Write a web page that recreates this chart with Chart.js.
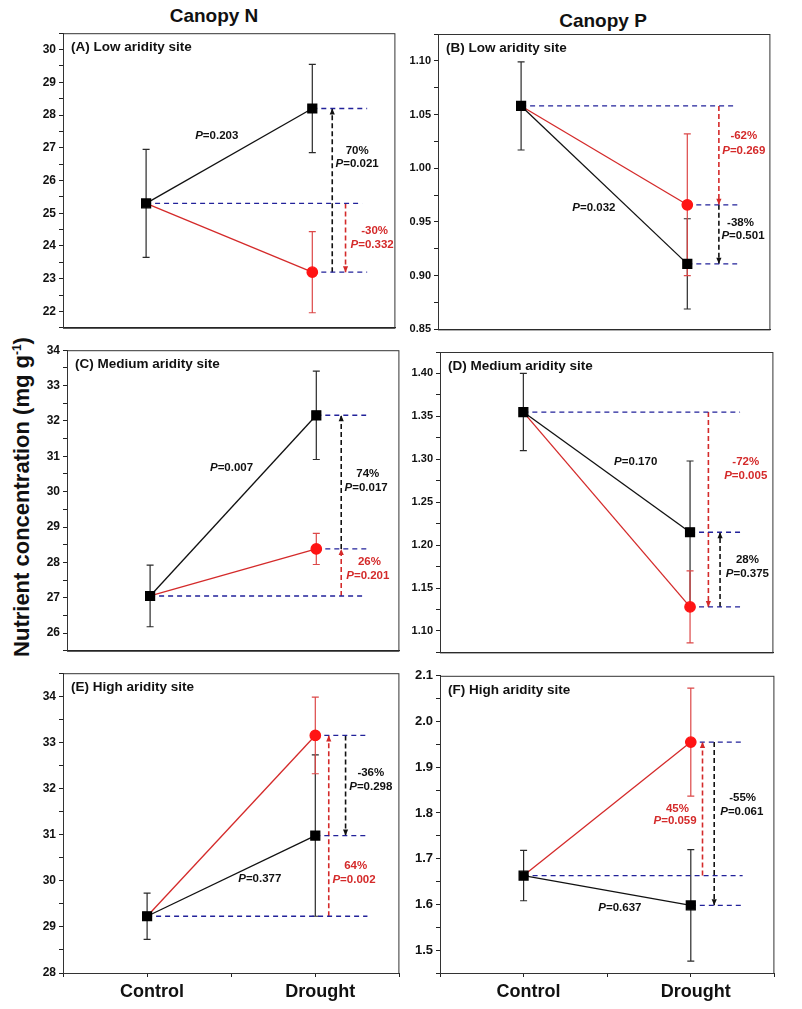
<!DOCTYPE html>
<html>
<head>
<meta charset="utf-8">
<title>Canopy N and P under drought</title>
<script src="https://cdn.jsdelivr.net/npm/chart.js@4.4.0/dist/chart.umd.min.js"></script>
<style>
    body { margin: 0; width: 802px; height: 1009px; background: #fff; position: relative; overflow: hidden;
           font-family: "Liberation Sans", Arial, sans-serif; }
    canvas { position: absolute; }
    .col-title { position: absolute; font-size: 19px; font-weight: bold; line-height: 1; color: #111;
                 transform: translateX(-50%); white-space: nowrap; }
    .y-title { position: absolute; left: 22px; top: 497px; font-size: 22px; font-weight: bold; color: #111;
               white-space: nowrap; transform: translate(-50%, -50%) rotate(-90deg); }
    .y-title sup { font-size: 12px; }
</style>
</head>
<body>
<div class="col-title" style="left:214px; top:6px;">Canopy N</div>
<div class="col-title" style="left:603px; top:11px;">Canopy P</div>
<div class="y-title">Nutrient concentration (mg g<sup>-1</sup>)</div>

<canvas id="chartA"></canvas>
<canvas id="chartB"></canvas>
<canvas id="chartC"></canvas>
<canvas id="chartD"></canvas>
<canvas id="chartE"></canvas>
<canvas id="chartF"></canvas>

<script>
// Treatments on the x axis
const groups = ['Control', 'Drought'];
const groupX = [1, 2];

// (A) Canopy N, low aridity site
const nLowBlack = [25.3, 28.2];
const nLowBlackErr = [1.65, 1.35];
const nLowRed = [25.3, 23.2];
const nLowRedErr = [0, 1.24];
const nLowTicks = [22, 23, 24, 25, 26, 27, 28, 29, 30];

// (B) Canopy P, low aridity site
const pLowBlack = [1.058, 0.911];
const pLowBlackErr = [0.041, 0.042];
const pLowRed = [1.058, 0.966];
const pLowRedErr = [0, 0.066];
const pLowTicks = [0.85, 0.90, 0.95, 1.00, 1.05, 1.10];

// (C) Canopy N, medium aridity site
const nMedBlack = [27.05, 32.16];
const nMedBlackErr = [0.87, 1.25];
const nMedRed = [27.05, 28.38];
const nMedRedErr = [0, 0.44];
const nMedTicks = [26, 27, 28, 29, 30, 31, 32, 33, 34];

// (D) Canopy P, medium aridity site
const pMedBlack = [1.355, 1.215];
const pMedBlackErr = [0.045, 0.083];
const pMedRed = [1.355, 1.128];
const pMedRedErr = [0, 0.042];
const pMedTicks = [1.10, 1.15, 1.20, 1.25, 1.30, 1.35, 1.40];

// (E) Canopy N, high aridity site
const nHighBlack = [29.23, 30.98];
const nHighBlackErr = [0.5, 1.75];
const nHighRed = [29.23, 33.15];
const nHighRedErr = [0, 0.83];
const nHighTicks = [28, 29, 30, 31, 32, 33, 34];

// (F) Canopy P, high aridity site
const pHighBlack = [1.663, 1.598];
const pHighBlackErr = [0.055, 0.122];
const pHighRed = [1.663, 1.955];
const pHighRedErr = [0, 0.118];
const pHighTicks = [1.5, 1.6, 1.7, 1.8, 1.9, 2.0, 2.1];

const BLACK = '#111111';
const RED = '#d42a2a';
const FONT = '"Liberation Sans", Arial, sans-serif';

Chart.defaults.font.family = FONT;

function toPoints(values) {
    return values.map((v, i) => ({ x: groupX[i], y: v }));
}

// Major ticks plus a minor tick half way between each pair
function yTickValues(majors, min, max) {
    const half = (majors[1] - majors[0]) / 2;
    const list = [];
    majors.forEach(m => list.push(m - half, m));
    list.push(majors[majors.length - 1] + half);
    return list
        .map(v => Number(v.toFixed(6)))
        .filter(v => v >= min - 1e-9 && v <= max + 1e-9);
}

const errorBarPlugin = {
    id: 'errorBars',
    beforeDatasetsDraw(chart) {
        const ctx = chart.ctx;
        const yScale = chart.scales.y;
        chart.data.datasets.forEach((ds, i) => {
            if (!ds.errors) return;
            const meta = chart.getDatasetMeta(i);
            ctx.save();
            ctx.strokeStyle = ds.errorColor;
            ctx.lineWidth = 1.2;
            meta.data.forEach((pt, j) => {
                const e = ds.errors[j];
                if (!e) return;
                const v = ds.data[j].y;
                const top = yScale.getPixelForValue(v + e);
                const bot = yScale.getPixelForValue(v - e);
                ctx.beginPath();
                ctx.moveTo(pt.x, top);
                ctx.lineTo(pt.x, bot);
                ctx.moveTo(pt.x - 3.5, top);
                ctx.lineTo(pt.x + 3.5, top);
                ctx.moveTo(pt.x - 3.5, bot);
                ctx.lineTo(pt.x + 3.5, bot);
                ctx.stroke();
            });
            ctx.restore();
        });
    }
};

const arrowPlugin = {
    id: 'arrowHeads',
    afterDatasetsDraw(chart) {
        const ctx = chart.ctx;
        chart.data.datasets.forEach((ds, i) => {
            if (!ds.arrow) return;
            const pts = chart.getDatasetMeta(i).data;
            const a = pts[0], z = pts[1];
            const dir = z.y < a.y ? -1 : 1;
            ctx.save();
            ctx.fillStyle = ds.borderColor;
            ctx.beginPath();
            ctx.moveTo(z.x, z.y);
            ctx.lineTo(z.x - 2.6, z.y - dir * 6);
            ctx.lineTo(z.x + 2.6, z.y - dir * 6);
            ctx.closePath();
            ctx.fill();
            ctx.restore();
        });
    }
};

const framePlugin = {
    id: 'frame',
    afterDraw(chart) {
        const { left, top, right, bottom } = chart.chartArea;
        const ctx = chart.ctx;
        ctx.save();
        ctx.strokeStyle = '#333';
        ctx.lineWidth = 1;
        ctx.strokeRect(left + 0.5, top + 0.5, right - left - 1, bottom - top);
        ctx.restore();
    }
};

// Panel caption and the percentage / P-value notes
function notesPlugin(caption, notes) {
    return {
        id: 'notes',
        afterDatasetsDraw(chart) {
            const ctx = chart.ctx;
            const { x, y } = chart.scales;
            ctx.save();
            ctx.textBaseline = 'middle';
            ctx.fillStyle = BLACK;
            ctx.font = 'bold 13.5px ' + FONT;
            ctx.textAlign = 'left';
            ctx.fillText(caption, chart.chartArea.left + 8, chart.chartArea.top + 14);

            notes.forEach(n => {
                const px = x.getPixelForValue(n[0]);
                const py = y.getPixelForValue(n[1]);
                const text = n[2];
                ctx.fillStyle = n[3] || BLACK;
                if (text.startsWith('P=')) {
                    const head = 'P';
                    const rest = text.slice(1);
                    ctx.font = 'italic bold 11.5px ' + FONT;
                    const w1 = ctx.measureText(head).width;
                    ctx.font = 'bold 11.5px ' + FONT;
                    const w2 = ctx.measureText(rest).width;
                    const start = px - (w1 + w2) / 2;
                    ctx.textAlign = 'left';
                    ctx.font = 'italic bold 11.5px ' + FONT;
                    ctx.fillText(head, start, py);
                    ctx.font = 'bold 11.5px ' + FONT;
                    ctx.fillText(rest, start + w1, py);
                } else {
                    ctx.textAlign = 'center';
                    ctx.font = 'bold 11.5px ' + FONT;
                    ctx.fillText(text, px, py);
                }
            });
            ctx.restore();
        }
    };
}

function makePanel(id, p) {
    const [l, t, r, b] = p.rect;
    const padL = 50, padT = 10, padR = 6;
    const xh = p.showX ? 36 : 6;
    const canvas = document.getElementById(id);
    canvas.width = r - l + padL + padR;
    canvas.height = b - t + padT + xh;
    canvas.style.left = (l - padL) + 'px';
    canvas.style.top = (t - padT) + 'px';

    const datasets = [
        {
            data: toPoints(p.black),
            borderColor: BLACK,
            borderWidth: 1.3,
            pointStyle: 'rect',
            pointRadius: 6.3,
            pointBackgroundColor: '#000',
            pointBorderColor: '#000',
            errors: p.blackErr,
            errorColor: '#2a2a2a'
        },
        {
            data: toPoints(p.red),
            borderColor: RED,
            borderWidth: 1.3,
            pointStyle: 'circle',
            pointRadius: [0, 5.2],
            pointBackgroundColor: '#ff1414',
            pointBorderColor: '#ff1414',
            errors: p.redErr,
            errorColor: '#dc4848'
        }
    ];

    p.guides.forEach(g => datasets.push({
        data: [{ x: g[0], y: g[1] }, { x: g[2], y: g[1] }],
        borderColor: '#22229a',
        borderWidth: 1.3,
        borderDash: [5, 4],
        pointRadius: 0
    }));

    p.arrows.forEach(a => datasets.push({
        data: [{ x: a[0], y: a[1] }, { x: a[0], y: a[2] }],
        borderColor: a[3],
        borderWidth: 1.6,
        borderDash: [5, 3],
        pointRadius: 0,
        arrow: true
    }));

    const yTicks = yTickValues(p.ticks, p.yMin, p.yMax);

    return new Chart(canvas, {
        type: 'line',
        data: { datasets: datasets },
        options: {
            responsive: false,
            animation: false,
            layout: { padding: { left: 0, top: padT, right: padR, bottom: 0 } },
            plugins: {
                legend: { display: false },
                tooltip: { enabled: false }
            },
            scales: {
                x: {
                    type: 'linear',
                    min: 0.5,
                    max: 2.5,
                    afterBuildTicks: s => { s.ticks = [0.5, 1, 1.5, 2, 2.5].map(v => ({ value: v })); },
                    afterFit: s => { s.height = xh; },
                    grid: { drawOnChartArea: false, drawTicks: p.showX, tickLength: 4, tickColor: '#222' },
                    border: { color: '#222', width: 1 },
                    ticks: {
                        display: p.showX,
                        padding: 4,
                        labelOffset: 5,
                        autoSkip: false,
                        maxRotation: 0,
                        color: BLACK,
                        font: { size: 18, weight: 'bold' },
                        callback: v => {
                            const k = groupX.indexOf(v);
                            return k >= 0 ? groups[k] : '';
                        }
                    }
                },
                y: {
                    type: 'linear',
                    min: p.yMin,
                    max: p.yMax,
                    afterBuildTicks: s => { s.ticks = yTicks.map(v => ({ value: v })); },
                    afterFit: s => { s.width = padL; },
                    grid: { drawOnChartArea: false, tickLength: 4, tickColor: '#222' },
                    border: { color: '#222', width: 1 },
                    ticks: {
                        padding: 3,
                        autoSkip: false,
                        color: BLACK,
                        font: { size: p.tickFont, weight: 'bold' },
                        callback: v => p.ticks.some(m => Math.abs(m - v) < 1e-6) ? v.toFixed(p.decimals) : ''
                    }
                }
            }
        },
        plugins: [errorBarPlugin, arrowPlugin, framePlugin, notesPlugin(p.caption, p.notes)]
    });
}

makePanel('chartA', {
    rect: [63, 33, 397, 332], showX: false,
    caption: '(A) Low aridity site',
    black: nLowBlack, blackErr: nLowBlackErr, red: nLowRed, redErr: nLowRedErr,
    ticks: nLowTicks, yMin: 21.5, yMax: 30.5, decimals: 0, tickFont: 12,
    guides: [[2, nLowBlack[1], 2.33], [1, nLowBlack[0], 2.30], [2, nLowRed[1], 2.33]],
    arrows: [[2.12, nLowRed[1], nLowBlack[1], BLACK], [2.20, nLowBlack[0], nLowRed[1], RED]],
    notes: [
        [1.425, 27.37, 'P=0.203'],
        [2.27, 26.92, '70%'], [2.27, 26.5, 'P=0.021'],
        [2.375, 24.45, '-30%', RED], [2.36, 24.03, 'P=0.332', RED]
    ]
});

makePanel('chartB', {
    rect: [438, 34, 772, 333], showX: false,
    caption: '(B) Low aridity site',
    black: pLowBlack, blackErr: pLowBlackErr, red: pLowRed, redErr: pLowRedErr,
    ticks: pLowTicks, yMin: 0.85, yMax: 1.125, decimals: 2, tickFont: 11,
    guides: [[1, pLowBlack[0], 2.28], [2, pLowRed[1], 2.31], [2, pLowBlack[1], 2.30]],
    arrows: [[2.19, pLowBlack[0], pLowRed[1], RED], [2.19, pLowRed[1], pLowBlack[1], BLACK]],
    notes: [
        [1.438, 0.963, 'P=0.032'],
        [2.34, 1.0298, '-62%', RED], [2.34, 1.016, 'P=0.269', RED],
        [2.32, 0.949, '-38%'], [2.335, 0.937, 'P=0.501']
    ]
});

makePanel('chartC', {
    rect: [67, 350, 401, 655], showX: false,
    caption: '(C) Medium aridity site',
    black: nMedBlack, blackErr: nMedBlackErr, red: nMedRed, redErr: nMedRedErr,
    ticks: nMedTicks, yMin: 25.5, yMax: 34, decimals: 0, tickFont: 12,
    guides: [[2, nMedBlack[1], 2.30], [2, nMedRed[1], 2.31], [1, nMedBlack[0], 2.28]],
    arrows: [[2.15, nMedRed[1], nMedBlack[1], BLACK], [2.15, nMedBlack[0], nMedRed[1], RED]],
    notes: [
        [1.49, 30.68, 'P=0.007'],
        [2.31, 30.5, '74%'], [2.30, 30.1, 'P=0.017'],
        [2.32, 28.01, '26%', RED], [2.31, 27.61, 'P=0.201', RED]
    ]
});

makePanel('chartD', {
    rect: [440, 352, 775, 656], showX: false,
    caption: '(D) Medium aridity site',
    black: pMedBlack, blackErr: pMedBlackErr, red: pMedRed, redErr: pMedRedErr,
    ticks: pMedTicks, yMin: 1.075, yMax: 1.425, decimals: 2, tickFont: 11,
    guides: [[1, pMedBlack[0], 2.30], [2, pMedBlack[1], 2.31], [2, pMedRed[1], 2.31]],
    arrows: [[2.11, pMedBlack[0], pMedRed[1], RED], [2.18, pMedRed[1], pMedBlack[1], BLACK]],
    notes: [
        [1.674, 1.297, 'P=0.170'],
        [2.334, 1.297, '-72%', RED], [2.334, 1.281, 'P=0.005', RED],
        [2.344, 1.183, '28%'], [2.344, 1.166, 'P=0.375']
    ]
});

makePanel('chartE', {
    rect: [63, 673, 401, 973], showX: true,
    caption: '(E) High aridity site',
    black: nHighBlack, blackErr: nHighBlackErr, red: nHighRed, redErr: nHighRedErr,
    ticks: nHighTicks, yMin: 28, yMax: 34.5, decimals: 0, tickFont: 12,
    guides: [[2, nHighRed[1], 2.31], [2, nHighBlack[1], 2.31], [1, nHighBlack[0], 2.31]],
    arrows: [[2.18, nHighRed[1], nHighBlack[1], BLACK], [2.08, nHighBlack[0], nHighRed[1], RED]],
    notes: [
        [1.67, 30.04, 'P=0.377'],
        [2.33, 32.35, '-36%'], [2.33, 32.03, 'P=0.298'],
        [2.24, 30.32, '64%', RED], [2.23, 30.03, 'P=0.002', RED]
    ]
});

makePanel('chartF', {
    rect: [440, 675, 776, 973], showX: true,
    caption: '(F) High aridity site',
    black: pHighBlack, blackErr: pHighBlackErr, red: pHighRed, redErr: pHighRedErr,
    ticks: pHighTicks, yMin: 1.45, yMax: 2.1, decimals: 1, tickFont: 13,
    guides: [[2, pHighRed[1], 2.32], [1, pHighBlack[0], 2.31], [2, pHighBlack[1], 2.31]],
    arrows: [[2.07, pHighBlack[0], pHighRed[1], RED], [2.14, pHighRed[1], pHighBlack[1], BLACK]],
    notes: [
        [1.576, 1.592, 'P=0.637'],
        [1.92, 1.809, '45%', RED], [1.906, 1.782, 'P=0.059', RED],
        [2.31, 1.833, '-55%'], [2.305, 1.802, 'P=0.061']
    ]
});
</script>
</body>
</html>
